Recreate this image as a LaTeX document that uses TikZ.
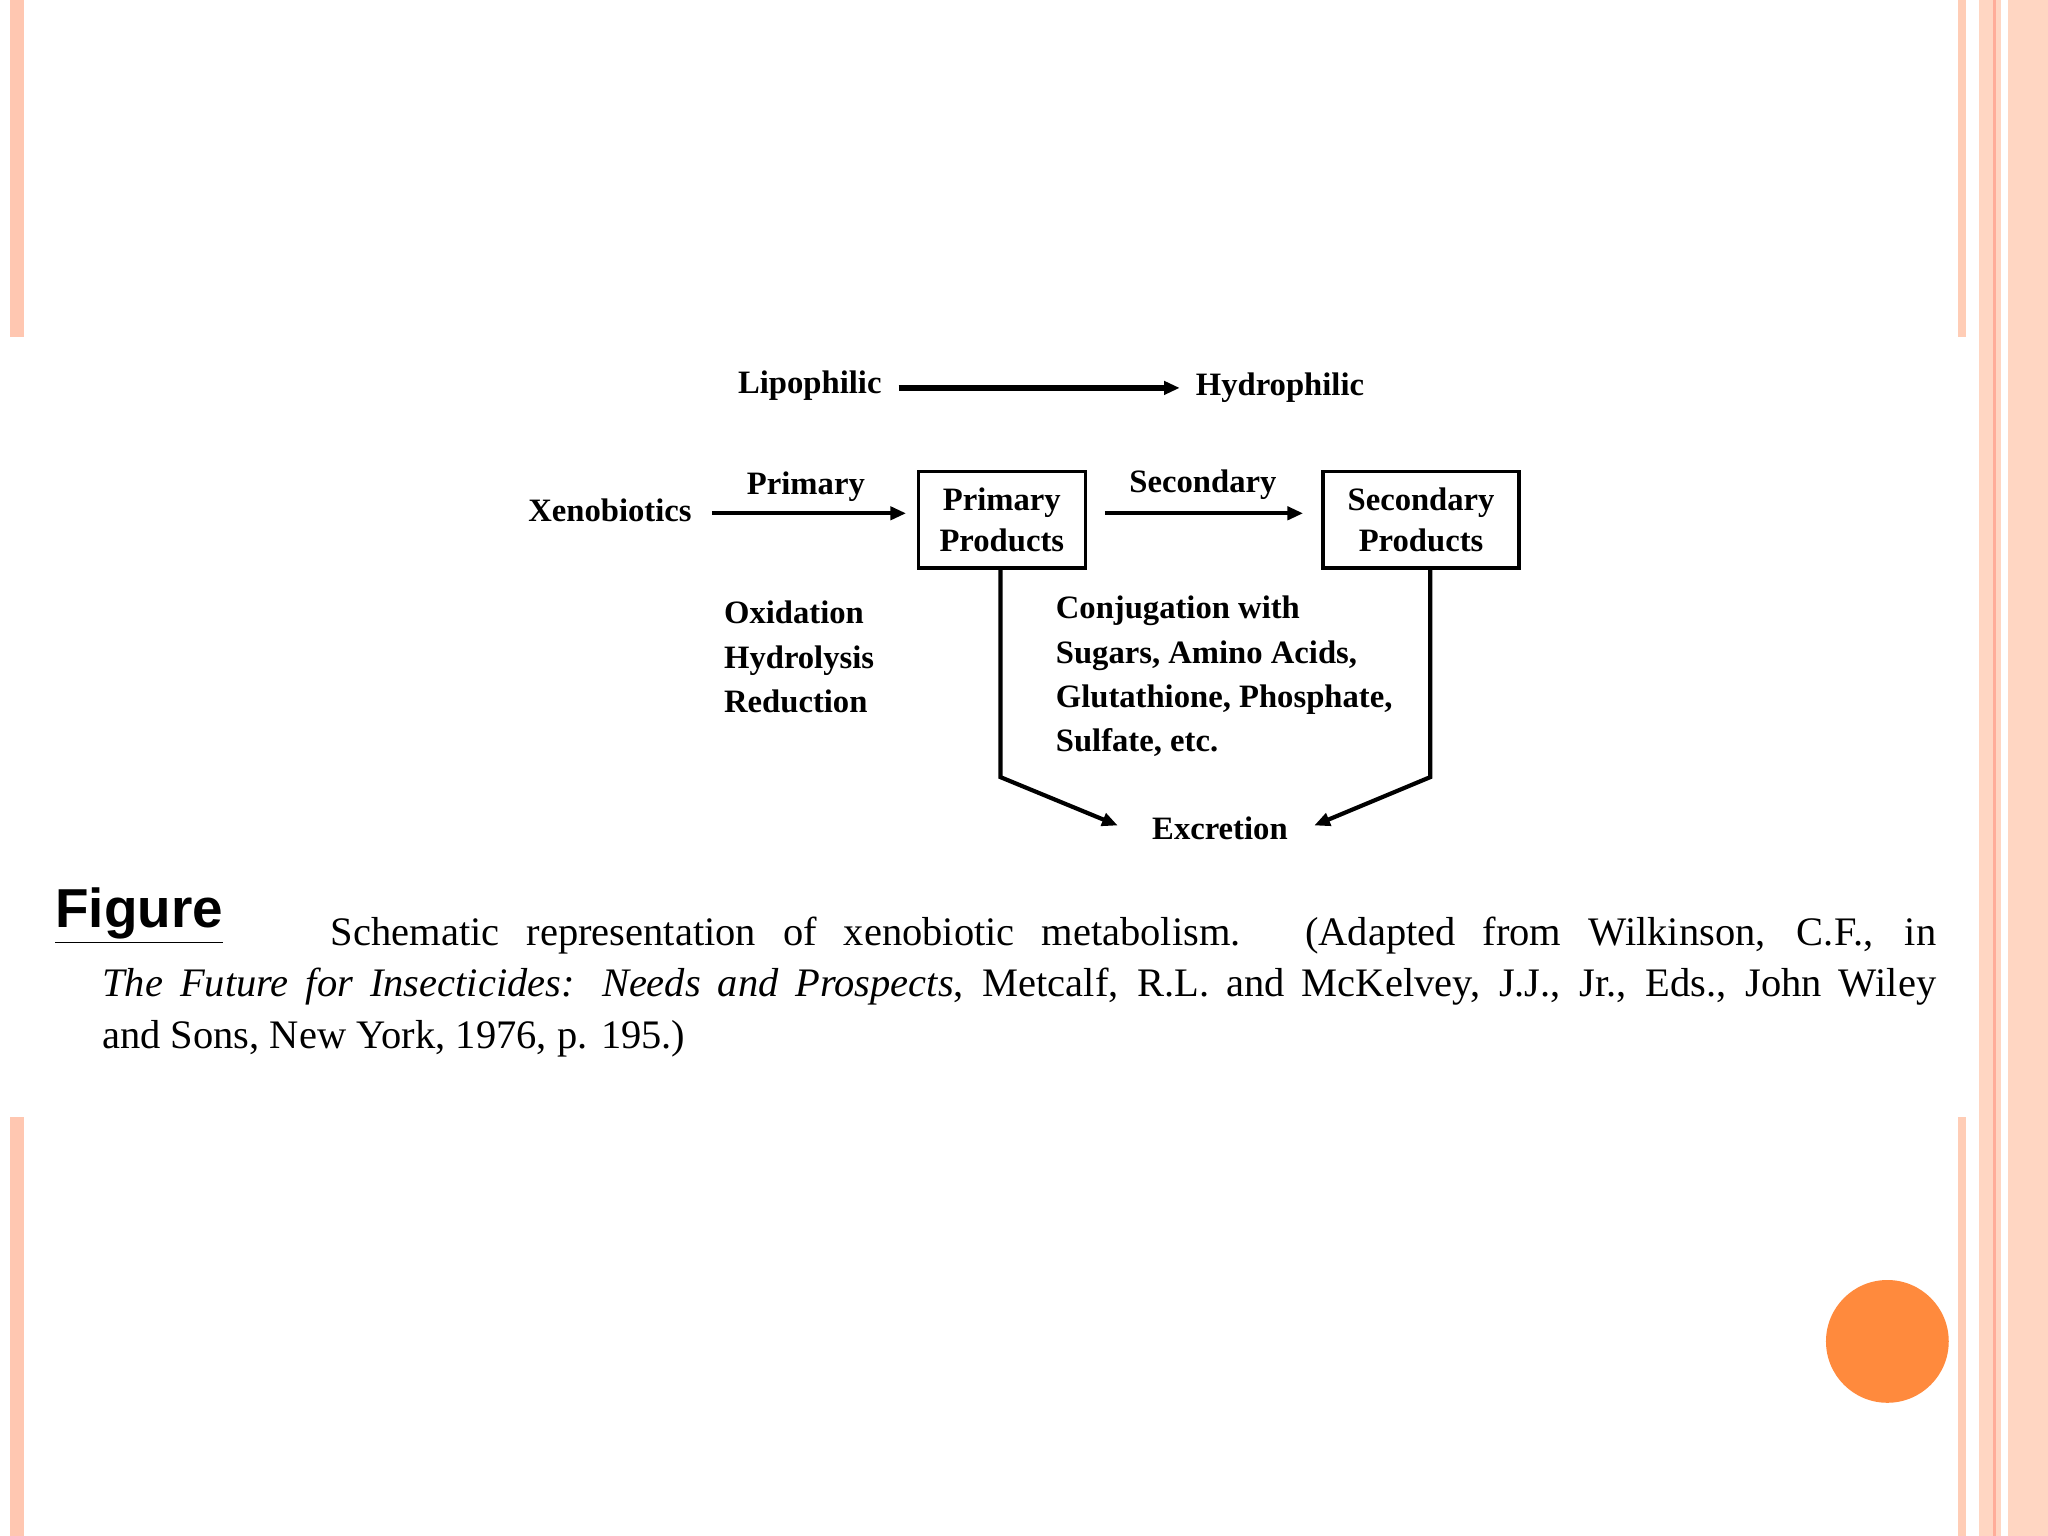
\documentclass[tikz,border=0pt]{standalone}
\usepackage{fontspec}
\setmainfont{Liberation Serif}
\setsansfont{Liberation Sans}
\usetikzlibrary{arrows.meta}
\definecolor{dot}{HTML}{FF8A3D}
\begin{document}
\begin{tikzpicture}[x=0.5pt,y=-0.5pt,
  lbl/.style={font=\fontsize{12.5}{15}\selectfont\bfseries,inner sep=0},
  bx/.style={draw,line width=1.3pt,minimum width=64pt,minimum height=37pt,align=center,font=\fontsize{12.5}{16}\selectfont\bfseries,inner sep=0},
  arr/.style={line width=1.6pt,-{Triangle[length=6pt,width=5pt]}},
  captxt/.style={font=\fontsize{15.5}{19}\selectfont,inner sep=0,anchor=base west}]
\useasboundingbox (0,0) rectangle (1568,1176);
\fill[white] (0,0) rectangle (1568,1176);
% decorations
\fill[orange!25!pink!70] (8,0) rectangle (18,258);
\fill[orange!25!pink!70] (8,855) rectangle (18,1176);
\fill[orange!30!pink!60] (1499,0) rectangle (1505,258);
\fill[orange!30!pink!60] (1499,855) rectangle (1505,1176);
\fill[orange!30!pink!50] (1515,0) rectangle (1568,1176);
\draw[orange!40!red!40,line width=0.8pt] (1527,0) -- (1527,1176);
\fill[white] (1532,0) rectangle (1537,1176);
\fill[dot] (1445,1027) circle (47);
% diagram
\node[lbl] (lip) at (620,295) {Lipophilic};
\node[lbl] (hyd) at (980,297) {Hydrophilic};
\coordinate (l1) at (688,297);
\draw[arr,line width=2.2pt] (l1) -- ([xshift=-6pt]hyd.west);
\node[lbl] (xen) at (467,391) {Xenobiotics};
\node[bx] (pp) at (767,398) {Primary\\Products};
\node[bx,minimum width=75pt] (sp) at (1088,398) {Secondary\\Products};
\coordinate (x1) at (545,393);
\draw[arr] (x1) -- ([xshift=-4pt]x1 -| pp.west);
\node[lbl] (prim) at (617,373) {Primary};
\node[lbl] (sec) at (921,371) {Secondary};
\coordinate (s1) at (846,393);
\draw[arr] (s1) -- ([xshift=-7pt]s1 -| sp.west);
\node[lbl,anchor=west,align=left,font=\fontsize{12.5}{17}\selectfont\bfseries] (ox) at (554,503) {Oxidation\\Hydrolysis\\Reduction};
\node[lbl,anchor=west,align=left,font=\fontsize{12.5}{17}\selectfont\bfseries] (conj) at (808,518) {Conjugation with\\Sugars, Amino Acids,\\Glutathione, Phosphate,\\Sulfate, etc.};
\node[lbl] (exc) at (934,634) {Excretion};
\coordinate (a1) at (766,595);
\coordinate (a2) at (1095,595);
\draw[arr] (pp.south -| a1) -- (a1) -- ([xshift=-13pt,yshift=1pt]exc.west);
\draw[arr] (sp.south -| a2) -- (a2) -- ([xshift=10pt,yshift=1pt]exc.east);
% caption
\node[font=\fontsize{21}{24}\selectfont\sffamily\bfseries,anchor=base west,inner sep=0] (fig) at (42,710) {\underline{Figure}};
\node[captxt] (c1) at (253,724) {\makebox[614.5pt][s]{Schematic representation of xenobiotic metabolism. (Adapted from Wilkinson, C.F., in}};
\node[captxt] (c2) at (78,763) {\makebox[702pt][s]{\textit{The Future for Insecticides: Needs and Prospects}, Metcalf, R.L. and McKelvey, J.J., Jr., Eds., John Wiley}};
\node[captxt] (c3) at (78,803) {and Sons, New York, 1976, p. 195.)};
\end{tikzpicture}
\end{document}
